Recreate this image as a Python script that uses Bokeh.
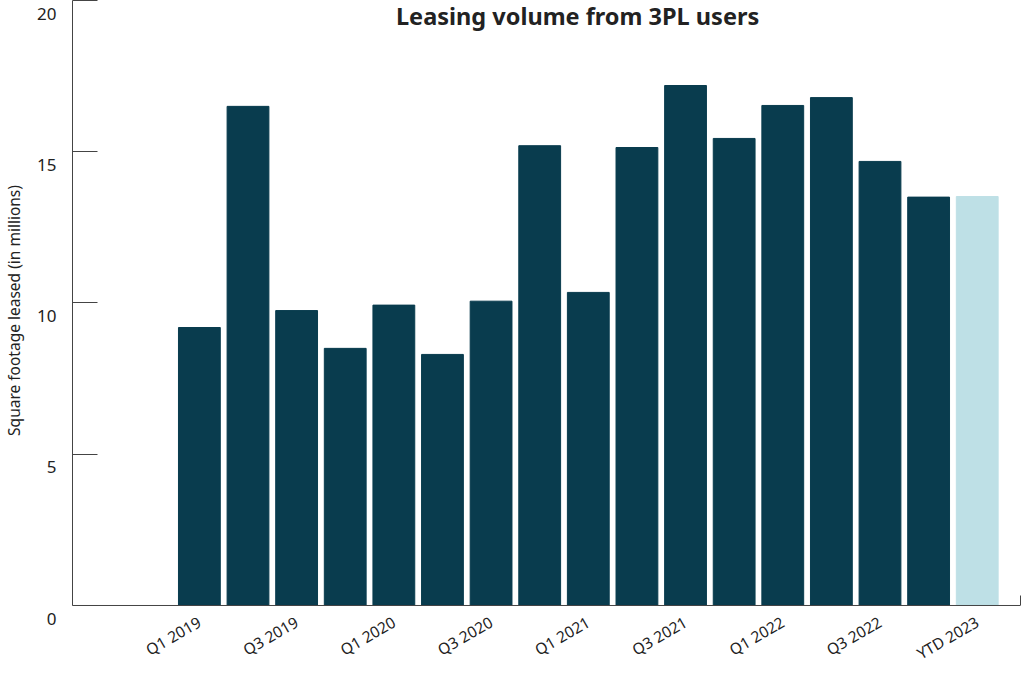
import math
from bokeh.plotting import figure
from bokeh.models import FixedTicker, Label, ColumnDataSource, LinearAxis, Range1d, Span
from bokeh.embed import file_html
from bokeh.resources import INLINE

categories = ["Q1 2019", "Q2 2019", "Q3 2019", "Q4 2019",
              "Q1 2020", "Q2 2020", "Q3 2020", "Q4 2020",
              "Q1 2021", "Q2 2021", "Q3 2021", "Q4 2021",
              "Q1 2022", "Q2 2022", "Q3 2022", "Q4 2022",
              "YTD 2023"]
values = [9.19, 16.5, 9.75, 8.5, 9.93, 8.3, 10.06, 15.2,
          10.35, 15.14, 17.19, 15.44, 16.53, 16.79, 14.68, 13.5, 13.52]
y_ticks = [0, 5, 10, 15, 20]
x_tick_idx = list(range(0, len(categories), 2))

DARK = "#093c4e"
LIGHT = "#bee0e6"
AXIS = "#444444"
TEXT = "#222222"
FONT = "Noto Sans"

xs = list(range(len(categories)))
colors = [DARK] * (len(categories) - 1) + [LIGHT]
src = ColumnDataSource(dict(x=xs, top=values, color=colors))

x_start, x_end = -2.61, 16.89
y_start, y_end = -0.496, 20
label_shift = 0.43  # tick labels sit a little below their ticks

p = figure(width=1024, height=676, output_backend="svg", toolbar_location=None,
           x_range=Range1d(x_start, x_end), y_range=Range1d(y_start, y_end),
           min_border_left=72, min_border_right=4, min_border_top=0, min_border_bottom=56)
p.extra_y_ranges = {"lab": Range1d(y_start, y_end)}
p.vbar(x="x", top="top", width=0.86, bottom=0, fill_color="color", line_color="color",
       line_width=1, source=src)

p.xgrid.grid_line_color = None
p.ygrid.grid_line_color = None
p.outline_line_color = None

# baseline (value 0)
p.add_layout(Span(location=0, dimension="width", line_color=AXIS, line_width=1))

# x axis
p.xaxis.ticker = FixedTicker(ticks=x_tick_idx)
p.xaxis.major_label_overrides = {i: categories[i] for i in x_tick_idx}
p.xaxis.major_label_orientation = math.pi / 6
p.xaxis.major_tick_line_color = None
p.xaxis.minor_tick_line_color = None
p.xaxis.axis_line_color = None
p.xaxis.major_label_text_font = FONT
p.xaxis.major_label_text_font_size = "15.5px"
p.xaxis.major_label_text_color = TEXT
p.xaxis.major_label_standoff = -6

# main y axis: line and inward ticks
p.yaxis.ticker = FixedTicker(ticks=y_ticks)
p.yaxis.bounds = (0, 20)
p.yaxis.major_tick_in = 25
p.yaxis.major_tick_out = 0
p.yaxis.minor_tick_line_color = None
p.yaxis.axis_line_color = AXIS
p.yaxis.major_tick_line_color = AXIS
p.yaxis.major_label_overrides = {v: "" for v in y_ticks}
p.yaxis.major_label_standoff = 0

# label axis: tick labels drawn slightly below the ticks, plus axis title
lab_axis = LinearAxis(y_range_name="lab",
                      ticker=FixedTicker(ticks=[v - label_shift for v in y_ticks]),
                      major_label_overrides={v - label_shift: str(v) for v in y_ticks},
                      axis_line_color=None, major_tick_line_color=None,
                      minor_tick_line_color=None, major_label_standoff=10,
                      major_label_text_font=FONT, major_label_text_font_size="17px",
                      major_label_text_color=TEXT,
                      axis_label="Square footage leased (in millions)",
                      axis_label_text_font=FONT, axis_label_text_font_size="15.5px",
                      axis_label_text_font_style="normal", axis_label_text_color=TEXT,
                      axis_label_standoff=9)
p.add_layout(lab_axis, "left")

# small end tick at right end of the baseline
end_axis = LinearAxis(bounds=(0, 0.33), ticker=FixedTicker(ticks=[]),
                      axis_line_color=AXIS, major_tick_line_color=None,
                      minor_tick_line_color=None)
p.add_layout(end_axis, "right")

p.add_layout(Label(x=7.78, y=y_end, y_offset=-15, text="Leasing volume from 3PL users",
                   text_align="center", text_baseline="middle",
                   text_font=FONT, text_font_style="bold", text_font_size="23.5px",
                   text_color=TEXT))

open("out.html", "w").write(file_html(p, INLINE))
